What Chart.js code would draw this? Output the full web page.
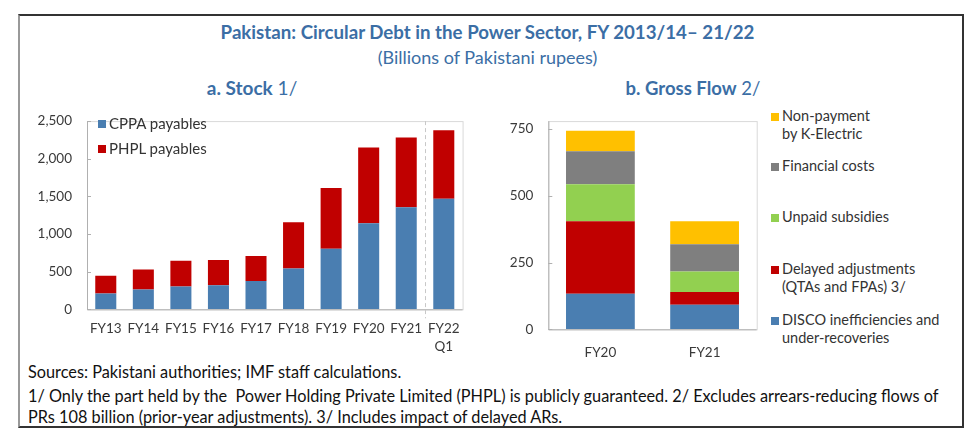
<!DOCTYPE html>
<html>
<head>
<meta charset="utf-8">
<script src="https://cdn.jsdelivr.net/npm/chart.js@4"></script>
<style>
  body { margin: 0; background: #fff; font-family: Lato, "Open Sans", sans-serif; }
  #page { position: relative; width: 975px; height: 436px; overflow: hidden; }
  #frame { position: absolute; left: 18px; top: 14px; width: 942px; height: 410px;
           border: 2px solid #333; border-left-color: #999; }
  .t { position: absolute; white-space: nowrap; line-height: 22px; }
  .blue { color: #3b6ea5; }
  .box { position: absolute; }
  .leg { position: absolute; color: #333; white-space: nowrap; line-height: 18px; }
  .sq { position: absolute; width: 8px; height: 8px; }
  .note { position: absolute; left: 28px; font-size: 16.3px; line-height: 20px; color: #111; white-space: nowrap; }
</style>
</head>
<body>
<div id="page">
  <div id="frame"></div>
  <div class="t blue" style="left:0;width:975px;text-align:center;top:21px;font-size:18.7px;font-weight:bold;">Pakistan: Circular Debt in the Power Sector, FY 2013/14– 21/22</div>
  <div class="t blue" style="left:0;width:975px;text-align:center;top:46px;font-size:18px;">(Billions of Pakistani rupees)</div>
  <div class="t blue" style="left:152px;width:200px;text-align:center;top:77px;font-size:19px;"><b>a. Stock</b> 1/</div>
  <div class="t blue" style="left:593px;width:200px;text-align:center;top:77px;font-size:18.5px;"><b>b. Gross Flow</b> 2/</div>

  <div class="box" style="left:30px;top:98px;width:440px;height:262px;"><canvas id="stockChart" width="440" height="262"></canvas></div>
  <div class="box" style="left:490px;top:98px;width:270px;height:262px;"><canvas id="flowChart" width="270" height="262"></canvas></div>

  <div id="stockLegend"></div>
  <div id="flowLegend"></div>

  <div class="note" style="top:362px;">Sources: Pakistani authorities; IMF staff calculations.</div>
  <div class="note" style="top:386px;">1/ Only the part held by the&nbsp; Power Holding Private Limited (PHPL) is publicly guaranteed. 2/ Excludes arrears-reducing flows of</div>
  <div class="note" style="top:407px;">PRs 108 billion (prior-year adjustments). 3/ Includes impact of delayed ARs.</div>
</div>

<script>
// Panel a: stock of circular debt
const stockYears = ['FY13', 'FY14', 'FY15', 'FY16', 'FY17', 'FY18', 'FY19', 'FY20', 'FY21', ['FY22', 'Q1']];
const cppaPayables = [210, 262, 304, 321, 375, 542, 804, 1142, 1354, 1467];
const phplPayables = [235, 267, 342, 333, 333, 616, 808, 1008, 929, 912];
const stockTicks = [0, 500, 1000, 1500, 2000, 2500];

// Panel b: gross flow
const flowYears = ['FY20', 'FY21'];
const discoIneff = [133, 92];
const delayedAdj = [272, 48];
const unpaidSubsidies = [138, 77];
const financialCosts = [124, 102];
const nonPaymentKE = [77, 86];
const flowTicks = [0, 250, 500, 750];

const BLUE = '#4a7eb1', RED = '#c00000', GREEN = '#92d050', GRAY = '#7f7f7f', YELLOW = '#ffc000';

Chart.defaults.font.family = 'Lato, "Open Sans", sans-serif';
Chart.defaults.color = '#3a3a3a';
Chart.defaults.animation = false;

// draws the light box round the plot, tick marks and the optional dashed divider
const frameBox = {
  id: 'frameBox',
  afterDatasetsDraw(chart, args, opts) {
    const { ctx, chartArea: a, scales } = chart;
    ctx.save();
    ctx.lineWidth = 1;
    ctx.strokeStyle = '#d9d9d9';
    ctx.strokeRect(a.left + 0.5, a.top + 0.5, a.right - a.left, a.bottom - a.top);
    ctx.strokeStyle = '#b0b0b0';
    ctx.beginPath();
    ctx.moveTo(a.left + 0.5, a.top);
    ctx.lineTo(a.left + 0.5, a.bottom + 0.5);
    ctx.lineTo(a.right, a.bottom + 0.5);
    scales.y.ticks.forEach(t => {
      const y = Math.round(scales.y.getPixelForValue(t.value)) + 0.5;
      ctx.moveTo(a.left, y);
      ctx.lineTo(a.left + 4, y);
    });
    ctx.stroke();
    if (opts.divider !== undefined) {
      const x = Math.round(scales.x.getPixelForValue(opts.divider)) + 0.5;
      ctx.strokeStyle = '#c8c8c8';
      ctx.setLineDash([4, 3]);
      ctx.beginPath();
      ctx.moveTo(x, a.top);
      ctx.lineTo(x, a.bottom + 9);
      ctx.stroke();
    }
    ctx.restore();
  }
};

function baseOptions(yMax, tickList, yWidth, xHeight, padding, xPad) {
  return {
    responsive: false,
    layout: { padding: padding },
    plugins: { legend: { display: false }, tooltip: { enabled: false } },
    scales: {
      x: {
        stacked: true,
        grid: { display: false, drawTicks: false },
        border: { display: false },
        ticks: { font: { size: 13.5, lineHeight: 1.35 }, padding: xPad, maxRotation: 0, autoSkip: false },
        afterFit(s) { s.height = xHeight; }
      },
      y: {
        stacked: true,
        min: 0,
        max: yMax,
        grid: { display: false, drawTicks: false },
        border: { display: false },
        ticks: { font: { size: 13.5 }, padding: 15 },
        afterBuildTicks(s) { s.ticks = tickList.map(v => ({ value: v })); },
        afterFit(s) { s.width = yWidth; }
      }
    }
  };
}

const stockOpts = baseOptions(2500, stockTicks, 57, 50.7, { left: 0, right: 7, top: 9.7, bottom: 0 }, 10);
stockOpts.plugins.frameBox = { divider: 8.5 };
new Chart(document.getElementById('stockChart'), {
  type: 'bar',
  data: {
    labels: stockYears,
    datasets: [
      { label: 'CPPA payables', data: cppaPayables, backgroundColor: BLUE, barPercentage: 0.56, categoryPercentage: 1 },
      { label: 'PHPL payables', data: phplPayables, backgroundColor: RED, barPercentage: 0.56, categoryPercentage: 1 }
    ]
  },
  options: stockOpts,
  plugins: [frameBox]
});

const flowOpts = baseOptions(780, flowTicks, 58.3, 30.7, { left: 0, right: 3.3, top: 12.7, bottom: 0 }, 14);
flowOpts.plugins.frameBox = {};
new Chart(document.getElementById('flowChart'), {
  type: 'bar',
  data: {
    labels: flowYears,
    datasets: [
      { label: 'DISCO inefficiencies and under-recoveries', data: discoIneff, backgroundColor: BLUE },
      { label: 'Delayed adjustments (QTAs and FPAs) 3/', data: delayedAdj, backgroundColor: RED },
      { label: 'Unpaid subsidies', data: unpaidSubsidies, backgroundColor: GREEN },
      { label: 'Financial costs', data: financialCosts, backgroundColor: GRAY },
      { label: 'Non-payment by K-Electric', data: nonPaymentKE, backgroundColor: YELLOW }
    ].map(d => Object.assign(d, { barPercentage: 0.66, categoryPercentage: 1 }))
  },
  options: flowOpts,
  plugins: [frameBox]
});

// HTML legends
function addLegend(id, items, size) {
  const host = document.getElementById(id);
  items.forEach(it => {
    const sq = document.createElement('div');
    sq.className = 'sq';
    sq.style.left = it.x + 'px';
    sq.style.top = (it.y - 4) + 'px';
    sq.style.background = it.color;
    host.appendChild(sq);
    const tx = document.createElement('div');
    tx.className = 'leg';
    tx.style.fontSize = size + 'px';
    tx.style.left = (it.x + 11) + 'px';
    tx.style.top = (it.y - 10) + 'px';
    tx.innerHTML = it.text;
    host.appendChild(tx);
  });
}
addLegend('stockLegend', [
  { x: 98, y: 124, color: BLUE, text: 'CPPA payables' },
  { x: 98, y: 149, color: RED, text: 'PHPL payables' }
], 15);
addLegend('flowLegend', [
  { x: 771, y: 117, color: YELLOW, text: 'Non-payment<br>by K-Electric' },
  { x: 771, y: 167, color: GRAY, text: 'Financial costs' },
  { x: 771, y: 218, color: GREEN, text: 'Unpaid subsidies' },
  { x: 771, y: 270, color: RED, text: 'Delayed adjustments<br>(QTAs and FPAs) 3/' },
  { x: 771, y: 321, color: BLUE, text: 'DISCO inefficiencies and<br>under-recoveries' }
], 14.5);
</script>
</body>
</html>
